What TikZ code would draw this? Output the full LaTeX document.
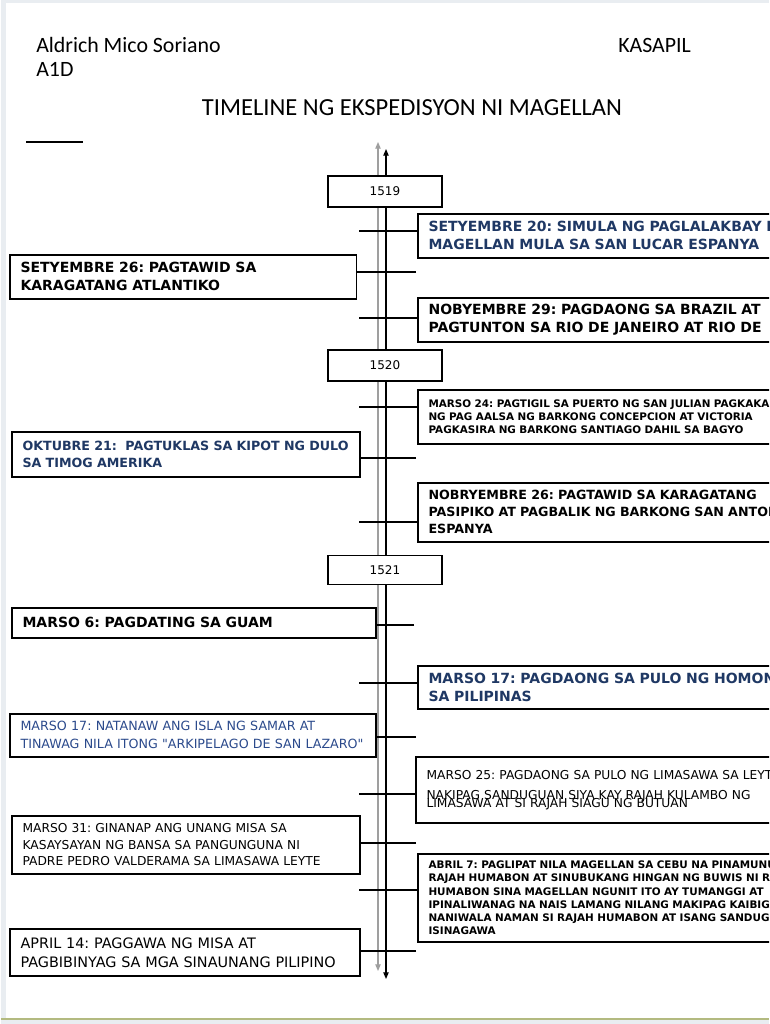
\documentclass[tikz,border=0pt]{standalone}
\usepackage{fontspec}
\setmainfont{DejaVu Sans}[Ligatures=TeXOff]
\newfontfamily\kopfont{Carlito}
\usetikzlibrary{arrows.meta}

\definecolor{navy}{HTML}{1F3864}
\definecolor{blauw}{HTML}{2B4A8C}
\definecolor{rand}{HTML}{E9EDF1}
\definecolor{olijf}{HTML}{B3BA80}
\frenchspacing

\begin{document}
\begin{tikzpicture}[
        x=0.75pt, y=-0.75pt,
        taon/.style={draw, line width=0.8pt, fill=white, minimum width=85.5pt, inner sep=0pt, font=\fontsize{9}{11}\selectfont},
        kaganapan/.style={draw, line width=1.3pt, fill=white, anchor=north west, align=left, inner xsep=8pt, inner ysep=0pt},
        kanan/.style={kaganapan, text width=290pt},
        malaki/.style={font=\fontsize{10.5}{13.5}\selectfont\bfseries},
        katamtaman/.style={font=\fontsize{9.5}{12.75}\selectfont\bfseries},
        maliit/.style={font=\fontsize{7.8}{9.9}\selectfont\bfseries},
        payak/.style={font=\fontsize{9.2}{12.4}\selectfont},
        guhit/.style={line width=1pt},
        linya/.style={{Triangle[length=5pt,width=4pt]}-{Triangle[length=5pt,width=4pt]}, line width=0.9pt}
    ]
        % frame of the page
        \fill[rand] (0,0) rectangle (768,1024);
        \fill[white] (5,3) rectangle (768,1018);
        \draw[olijf, line width=1.5pt] (0,1019) -- (768,1019);
        \clip (0,0) rectangle (768,1024);

        % header
        \node[anchor=base west, inner sep=0pt, font=\kopfont\fontsize{16.4}{20}\selectfont] (pangalan) at (35,53) {Aldrich Mico Soriano};
        \node[anchor=base west, inner sep=0pt, font=\kopfont\fontsize{16.4}{20}\selectfont] (seksyon) at (35,76) {A1D};
        \node[anchor=base west, inner sep=0pt, font=\kopfont\fontsize{16.4}{20}\selectfont] (kasapil) at (617,53) {KASAPIL};
        \node[anchor=base, inner sep=0pt, font=\kopfont\fontsize{18.4}{22}\selectfont] (pamagat) at (411,115) {TIMELINE NG EKSPEDISYON NI MAGELLAN};
        \draw[line width=1.5pt] (25,142) -- (82,142);

        % timeline
        \coordinate (gtaas) at (377,142);
        \coordinate (gbaba) at (377,971);
        \coordinate (ataas) at (385,149);
        \coordinate (ababa) at (385,979);
        \draw[linya, gray!75] (gbaba) -- (gtaas);
        \draw[linya, black] (ababa) -- (ataas);

        % years
        \node[taon, minimum height=23.25pt] (t1519) at (384,191.5) {1519};
        \node[taon, minimum height=23.25pt] (t1520) at (384,365.5) {1520};
        \node[taon, minimum height=21.75pt] (t1521) at (384,570) {1521};

        % events
        \node[kanan, malaki, text=navy, minimum height=33pt] (set20) at (416,213)
            {SETYEMBRE 20: SIMULA NG PAGLALAKBAY NI\\MAGELLAN MULA SA SAN LUCAR ESPANYA};
        \node[kaganapan, malaki, text width=244pt, minimum height=33pt] (set26) at (8,254)
            {SETYEMBRE 26: PAGTAWID SA\\KARAGATANG ATLANTIKO};
        \node[kanan, malaki, minimum height=33pt] (nob29) at (416,297)
            {NOBYEMBRE 29: PAGDAONG SA BRAZIL AT\\PAGTUNTON SA RIO DE JANEIRO AT RIO DE};
        \node[kanan, maliit, minimum height=40.5pt] (mar24) at (416,389)
            {MARSO 24: PAGTIGIL SA PUERTO NG SAN JULIAN PAGKAKA\\NG PAG AALSA NG BARKONG CONCEPCION AT VICTORIA\\PAGKASIRA NG BARKONG SANTIAGO DAHIL SA BAGYO};
        \node[kaganapan, katamtaman, text=navy, text width=245pt, minimum height=33.75pt] (okt21) at (10,431)
            {OKTUBRE 21: \ PAGTUKLAS SA KIPOT NG DULO\\SA TIMOG AMERIKA};
        \node[kanan, katamtaman, minimum height=44.25pt] (nob26) at (416,482)
            {NOBRYEMBRE 26: PAGTAWID SA KARAGATANG\\PASIPIKO AT PAGBALIK NG BARKONG SAN ANTONIO\\ESPANYA};
        \node[kaganapan, malaki, text width=257pt, minimum height=22.5pt] (mar6) at (10,607)
            {MARSO 6: PAGDATING SA GUAM};
        \node[kanan, malaki, text=navy, minimum height=32.25pt] (mar17) at (416,665)
            {MARSO 17: PAGDAONG SA PULO NG HOMONHON\\SA PILIPINAS};
        \node[kaganapan, font=\fontsize{9.5}{13.5}\selectfont, text=blauw, text width=258.5pt, minimum height=32.25pt] (samar) at (8,713)
            {MARSO 17: NATANAW ANG ISLA NG SAMAR AT\\TINAWAG NILA ITONG "ARKIPELAGO DE SAN LAZARO"};
        \node[kanan, payak, minimum height=49.5pt] (mar25) at (414,756)
            {MARSO 25: PAGDAONG SA PULO NG LIMASAWA SA LEYTE\\[3pt]NAKIPAG SANDUGUAN SIYA KAY RAJAH KULAMBO NG\\[-6.5pt]LIMASAWA AT SI RAJAH SIAGU NG BUTUAN\\[4pt]};
        \node[kaganapan, payak, text width=245pt, minimum height=43.5pt] (mar31) at (10,815)
            {MARSO 31: GINANAP ANG UNANG MISA SA\\KASAYSAYAN NG BANSA SA PANGUNGUNA NI\\PADRE PEDRO VALDERAMA SA LIMASAWA LEYTE};
        \node[kanan, maliit, minimum height=66pt] (abr7) at (416,853)
            {ABRIL 7: PAGLIPAT NILA MAGELLAN SA CEBU NA PINAMUNUAN NI\\RAJAH HUMABON AT SINUBUKANG HINGAN NG BUWIS NI RAJAH\\HUMABON SINA MAGELLAN NGUNIT ITO AY TUMANGGI AT\\IPINALIWANAG NA NAIS LAMANG NILANG MAKIPAG KAIBIGAN\\NANIWALA NAMAN SI RAJAH HUMABON AT ISANG SANDUGUAN\\ISINAGAWA};
        \node[kaganapan, font=\fontsize{10.8}{14.25}\selectfont, text width=246.5pt, minimum height=35.25pt] (apr14) at (8,928)
            {APRIL 14: PAGGAWA NG MISA AT\\PAGBIBINYAG SA MGA SINAUNANG PILIPINO};

        % ticks
        \coordinate (k1) at (358,231);
        \coordinate (k2) at (415,272);
        \coordinate (k3) at (358,318);
        \coordinate (k4) at (358,407);
        \coordinate (k5) at (415,458);
        \coordinate (k6) at (358,522);
        \coordinate (k7) at (413,625);
        \coordinate (k8) at (358,683);
        \coordinate (k9) at (415,737);
        \coordinate (k10) at (358,794);
        \coordinate (k11) at (415,843);
        \coordinate (k12) at (358,890);
        \coordinate (k13) at (415,951);

        \draw[guhit] (k1) -- (k1 -| set20.west);
        \draw[guhit] (k2) -- (k2 -| set26.east);
        \draw[guhit] (k3) -- (k3 -| nob29.west);
        \draw[guhit] (k4) -- (k4 -| mar24.west);
        \draw[guhit] (k5) -- (k5 -| okt21.east);
        \draw[guhit] (k6) -- (k6 -| nob26.west);
        \draw[guhit] (k7) -- (k7 -| mar6.east);
        \draw[guhit] (k8) -- (k8 -| mar17.west);
        \draw[guhit] (k9) -- (k9 -| samar.east);
        \draw[guhit] (k10) -- (k10 -| mar25.west);
        \draw[guhit] (k11) -- (k11 -| mar31.east);
        \draw[guhit] (k12) -- (k12 -| abr7.west);
        \draw[guhit] (k13) -- (k13 -| apr14.east);
    \end{tikzpicture}
\end{document}
